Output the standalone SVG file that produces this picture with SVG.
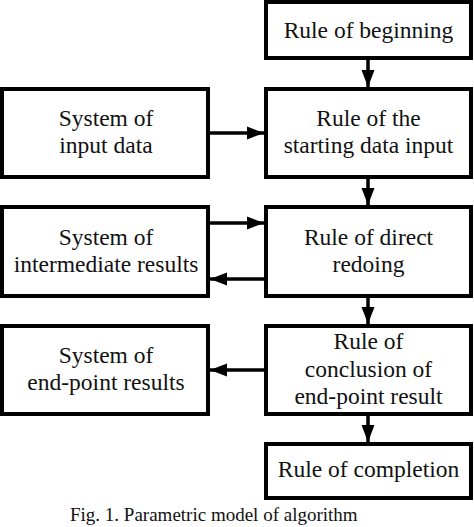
<svg xmlns="http://www.w3.org/2000/svg" width="474" height="527" viewBox="0 0 474 527">
<defs>
<style>
.box{fill:#fff;stroke:#000;stroke-width:4}
.t{font-family:'Liberation Serif','Times New Roman','DejaVu Serif',serif;font-size:23.5px;fill:#111;text-anchor:middle}
.c{stroke:#000;stroke-width:3.5;fill:none}
.cap{font-family:'Liberation Serif','Times New Roman','DejaVu Serif',serif;font-size:19px;fill:#111}
</style>
<marker id="ah" markerUnits="userSpaceOnUse" markerWidth="18" markerHeight="14" refX="17" refY="7" orient="auto">
<polygon points="0,0.5 17,7 0,13.5" fill="#000"/>
</marker>
</defs>
<rect width="474" height="527" fill="#fff"/>
<g id="connectors">
<line class="c" x1="368" y1="60" x2="368" y2="87" marker-end="url(#ah)"/>
<line class="c" x1="210" y1="133" x2="264" y2="133" marker-end="url(#ah)"/>
<line class="c" x1="368" y1="179" x2="368" y2="205" marker-end="url(#ah)"/>
<line class="c" x1="210" y1="223" x2="264" y2="223" marker-end="url(#ah)"/>
<line class="c" x1="264" y1="279" x2="210" y2="279" marker-end="url(#ah)"/>
<line class="c" x1="368" y1="298" x2="368" y2="324" marker-end="url(#ah)"/>
<line class="c" x1="264" y1="370" x2="210" y2="370" marker-end="url(#ah)"/>
<line class="c" x1="368" y1="416" x2="368" y2="442" marker-end="url(#ah)"/>
</g>
<g id="rule-beginning">
<rect class="box" x="266" y="2" width="205" height="56"/>
<text class="t" x="368.5" y="38">Rule of beginning</text>
</g>
<g id="system-input">
<rect class="box" x="2" y="89" width="206" height="88"/>
<text class="t" x="106" y="126">System of</text>
<text class="t" x="106" y="153">input data</text>
</g>
<g id="rule-starting">
<rect class="box" x="266" y="89" width="205" height="88"/>
<text class="t" x="368.5" y="126">Rule of the</text>
<text class="t" x="368.5" y="153">starting data input</text>
</g>
<g id="system-intermediate">
<rect class="box" x="2" y="207" width="206" height="89"/>
<text class="t" x="106" y="245">System of</text>
<text class="t" x="106" y="272">intermediate results</text>
</g>
<g id="rule-direct">
<rect class="box" x="266" y="207" width="205" height="89"/>
<text class="t" x="368.5" y="245">Rule of direct</text>
<text class="t" x="368.5" y="272">redoing</text>
</g>
<g id="system-endpoint">
<rect class="box" x="2" y="326" width="206" height="88"/>
<text class="t" x="106" y="363">System of</text>
<text class="t" x="106" y="390">end-point results</text>
</g>
<g id="rule-conclusion">
<rect class="box" x="266" y="326" width="205" height="88"/>
<text class="t" x="368.5" y="349">Rule of</text>
<text class="t" x="368.5" y="377">conclusion of</text>
<text class="t" x="368.5" y="404">end-point result</text>
</g>
<g id="rule-completion">
<rect class="box" x="266" y="444" width="205" height="54"/>
<text class="t" x="368.5" y="477">Rule of completion</text>
</g>
<text class="cap" x="70" y="521">Fig. 1. Parametric model of algorithm</text>
</svg>
